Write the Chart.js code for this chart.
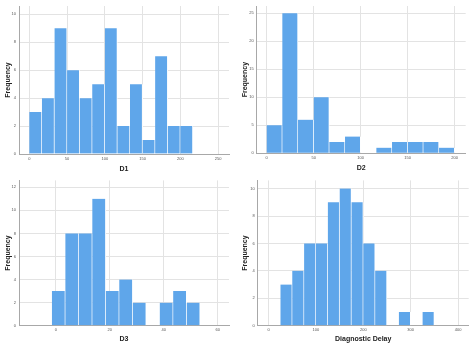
<!DOCTYPE html>
<html>
<head>
<meta charset="utf-8">
<script src="https://cdn.jsdelivr.net/npm/chart.js@4/dist/chart.umd.min.js"></script>
<style>
  html, body { margin: 0; padding: 0; background: #ffffff; }
  #wrap { position: relative; width: 474px; height: 349px; overflow: hidden; }
  .panel { position: absolute; }
</style>
</head>
<body>
<div id="wrap">
  <div class="panel" style="left:0;top:0"><canvas id="c1" width="237" height="175"></canvas></div>
  <div class="panel" style="left:237px;top:0"><canvas id="c2" width="237" height="175"></canvas></div>
  <div class="panel" style="left:0;top:175px"><canvas id="c3" width="237" height="174"></canvas></div>
  <div class="panel" style="left:237px;top:175px"><canvas id="c4" width="237" height="174"></canvas></div>
</div>
<script>
// Histogram bin centres and frequencies for each measure
const d1Bins   = [8.33, 25, 41.67, 58.33, 75, 91.67, 108.33, 125, 141.67, 158.33, 175, 191.67, 208.33];
const d1Counts = [3, 4, 9, 6, 4, 5, 9, 2, 5, 1, 7, 2, 2];

const d2Bins   = [8.33, 25, 41.67, 58.33, 75, 91.67, 108.33, 125, 141.67, 158.33, 175, 191.67];
const d2Counts = [5, 25, 6, 10, 2, 3, 0, 1, 2, 2, 2, 1];

const d3Bins   = [1, 6, 11, 16, 21, 26, 31, 36, 41, 46, 51];
const d3Counts = [3, 8, 8, 11, 3, 4, 2, 0, 2, 3, 2];

const d4Bins   = [37.5, 62.5, 87.5, 112.5, 137.5, 162.5, 187.5, 212.5, 237.5, 262.5, 287.5, 312.5, 337.5];
const d4Counts = [3, 4, 6, 6, 9, 10, 9, 6, 4, 0, 1, 0, 1];

const xTitles = ['D1', 'D2', 'D3', 'Diagnostic Delay'];
const yTitle = 'Frequency';

const BAR = '#5fa6ea';
const GRID = '#e3e3e3';
const AXIS = '#a8a8a8';
const TICK = '#555555';
const FONT = "'Liberation Sans', Arial, sans-serif";

function histogram(id, bins, counts, xTitle, cfg) {
  const points = bins.map((b, i) => ({ x: b, y: counts[i] }));
  new Chart(document.getElementById(id), {
    type: 'bar',
    data: {
      datasets: [{
        data: points,
        backgroundColor: BAR,
        borderColor: '#ffffff',
        borderWidth: { top: 0, left: 0, bottom: 0, right: 1 },
        borderSkipped: 'start',
        categoryPercentage: 1,
        barPercentage: 1
      }]
    },
    options: {
      responsive: false,
      animation: false,
      devicePixelRatio: 1,
      layout: { padding: { top: cfg.top, right: cfg.right, bottom: 0, left: 0 } },
      plugins: { legend: { display: false }, tooltip: { enabled: false } },
      scales: {
        x: {
          type: 'linear',
          offset: false,
          min: cfg.xMin, max: cfg.xMax,
          grid: { color: GRID, drawTicks: false, lineWidth: 1, offset: false },
          border: { color: AXIS, width: 1 },
          ticks: {
            stepSize: cfg.xStep, includeBounds: false, padding: 2,
            color: TICK, font: { family: FONT, size: 4 }, maxRotation: 0
          },
          title: {
            display: true, text: xTitle, color: '#222222',
            font: { family: FONT, size: 7, weight: 'bold' },
            padding: { top: 0, bottom: cfg.titlePad }
          },
          afterFit: (s) => { s.height = cfg.xHeight; }
        },
        y: {
          min: 0, max: cfg.yMax,
          grid: { color: GRID, drawTicks: false, lineWidth: 1 },
          border: { color: AXIS, width: 1 },
          ticks: {
            stepSize: cfg.yStep, includeBounds: false, padding: 3,
            color: TICK, font: { family: FONT, size: 4 }
          },
          title: {
            display: true, text: yTitle, color: '#222222',
            font: { family: FONT, size: 7, weight: 'bold' },
            padding: { top: 4, bottom: 0 }
          },
          afterFit: (s) => { s.width = cfg.yWidth; }
        }
      }
    }
  });
}

histogram('c1', d1Bins, d1Counts, xTitles[0], {
  xMin: -13.7, xMax: 264.5, xStep: 50, yMax: 10.6, yStep: 2,
  top: 6, right: 8, yWidth: 19, xHeight: 21, titlePad: 1.5
});
histogram('c2', d2Bins, d2Counts, xTitles[1], {
  xMin: -10.6, xMax: 211.7, xStep: 50, yMax: 26.3, yStep: 5,
  top: 6, right: 8.3, yWidth: 19.7, xHeight: 21.7, titlePad: 2.5
});
histogram('c3', d3Bins, d3Counts, xTitles[2], {
  xMin: -13.7, xMax: 64.2, xStep: 20, yMax: 12.6, yStep: 2,
  top: 4, right: 8, yWidth: 19, xHeight: 23.3, titlePad: 5.5
});
histogram('c4', d4Bins, d4Counts, xTitles[3], {
  xMin: -23, xMax: 422.5, xStep: 100, yMax: 10.6, yStep: 2,
  top: 2, right: 5.3, yWidth: 20.7, xHeight: 23.3, titlePad: 5.5
});
</script>
</body>
</html>
